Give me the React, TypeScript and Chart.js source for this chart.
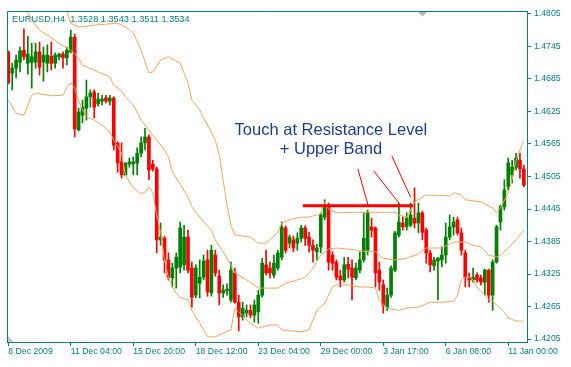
import React, { useEffect, useRef } from 'react';
import { Chart, registerables } from 'chart.js';

Chart.register(...registerables);

const titleText = 'EURUSD,H4  1.3528 1.3543 1.3511 1.3534';
const noteLine1 = 'Touch at Resistance Level';
const noteLine2 = '+ Upper Band';

const xTickBars = [0, 16, 32, 48, 64, 80, 96, 112, 128];
const xTickLabels = ['8 Dec 2009', '11 Dec 04:00', '15 Dec 20:00', '18 Dec 12:00', '23 Dec 04:00', '29 Dec 00:00', '3 Jan 17:00', '6 Jan 08:00', '11 Jan 00:00'];
const yTicks = [1.4805, 1.4745, 1.4685, 1.4625, 1.4565, 1.4505, 1.4445, 1.4385, 1.4325, 1.4265, 1.4205];

const open = [
  1.4735, 1.4696, 1.4705, 1.4716, 1.4738, 1.4714, 1.4716, 1.4716, 1.4735, 1.4716,
  1.4714, 1.4727, 1.4714, 1.4726, 1.4731, 1.4724, 1.4735, 1.4762, 1.4591, 1.4618,
  1.4631, 1.4652, 1.4661, 1.4639, 1.4644, 1.4650, 1.4644, 1.4650, 1.4567, 1.4532,
  1.4508, 1.4528, 1.4528, 1.4530, 1.4548, 1.4567, 1.4578, 1.4528, 1.4519, 1.4388,
  1.4391, 1.4351, 1.4318, 1.4336, 1.4338, 1.4342, 1.4393, 1.4336, 1.4286, 1.4308,
  1.4319, 1.4351, 1.4290, 1.4360, 1.4321, 1.4290, 1.4294, 1.4277, 1.4327, 1.4273,
  1.4246, 1.4253, 1.4258, 1.4249, 1.4255, 1.4286, 1.4342, 1.4336, 1.4323, 1.4336,
  1.4356, 1.4410, 1.4382, 1.4388, 1.4382, 1.4391, 1.4410, 1.4393, 1.4378, 1.4366,
  1.4375, 1.4430, 1.4452, 1.4360, 1.4347, 1.4321, 1.4314, 1.4343, 1.4336, 1.4318,
  1.4332, 1.4351, 1.4369, 1.4412, 1.4410, 1.4332, 1.4305, 1.4264, 1.4286, 1.4332,
  1.4397, 1.4419, 1.4412, 1.4415, 1.4428, 1.4419, 1.4438, 1.4406, 1.4364, 1.4340,
  1.4349, 1.4351, 1.4360, 1.4393, 1.4412, 1.4425, 1.4401, 1.4364, 1.4319, 1.4314,
  1.4323, 1.4318, 1.4310, 1.4332, 1.4286, 1.4347, 1.4421, 1.4449, 1.4486, 1.4508,
  1.4522, 1.4535, 1.4519,
];
const high = [
  1.4737, 1.4714, 1.4729, 1.4744, 1.4777, 1.4764, 1.4751, 1.4751, 1.4753, 1.4744,
  1.4748, 1.4753, 1.4733, 1.4733, 1.4735, 1.4744, 1.4775, 1.4768, 1.4631, 1.4646,
  1.4683, 1.4665, 1.4665, 1.4659, 1.4655, 1.4655, 1.4655, 1.4652, 1.4569, 1.4567,
  1.4530, 1.4539, 1.4541, 1.4558, 1.4578, 1.4594, 1.4582, 1.4535, 1.4522, 1.4419,
  1.4395, 1.4364, 1.4345, 1.4364, 1.4421, 1.4415, 1.4406, 1.4347, 1.4342, 1.4351,
  1.4360, 1.4369, 1.4378, 1.4369, 1.4332, 1.4305, 1.4307, 1.4347, 1.4336, 1.4286,
  1.4273, 1.4268, 1.4268, 1.4277, 1.4295, 1.4354, 1.4369, 1.4347, 1.4360, 1.4369,
  1.4421, 1.4414, 1.4397, 1.4395, 1.4401, 1.4415, 1.4414, 1.4402, 1.4388, 1.4380,
  1.4438, 1.4462, 1.4456, 1.4366, 1.4351, 1.4332, 1.4356, 1.4356, 1.4351, 1.4345,
  1.4366, 1.4438, 1.4443, 1.4428, 1.4412, 1.4347, 1.4314, 1.4299, 1.4340, 1.4404,
  1.4456, 1.4430, 1.4438, 1.4456, 1.4484, 1.4456, 1.4441, 1.4410, 1.4369, 1.4356,
  1.4356, 1.4375, 1.4419, 1.4434, 1.4430, 1.4430, 1.4410, 1.4369, 1.4327, 1.4336,
  1.4327, 1.4323, 1.4334, 1.4334, 1.4351, 1.4415, 1.4452, 1.4499, 1.4539, 1.4535,
  1.4548, 1.4548, 1.4526,
];
const low = [
  1.4676, 1.4665, 1.4687, 1.4698, 1.4720, 1.4694, 1.4668, 1.4705, 1.4692, 1.4681,
  1.4698, 1.4702, 1.4705, 1.4720, 1.4705, 1.4711, 1.4733, 1.4578, 1.4589, 1.4604,
  1.4609, 1.4633, 1.4613, 1.4635, 1.4637, 1.4641, 1.4637, 1.4554, 1.4513, 1.4502,
  1.4506, 1.4522, 1.4508, 1.4508, 1.4541, 1.4554, 1.4499, 1.4515, 1.4364, 1.4378,
  1.4327, 1.4314, 1.4301, 1.4299, 1.4327, 1.4332, 1.4327, 1.4264, 1.4281, 1.4281,
  1.4314, 1.4284, 1.4284, 1.4321, 1.4268, 1.4282, 1.4286, 1.4273, 1.4271, 1.4220,
  1.4240, 1.4246, 1.4244, 1.4236, 1.4234, 1.4282, 1.4323, 1.4318, 1.4318, 1.4332,
  1.4351, 1.4364, 1.4373, 1.4366, 1.4369, 1.4384, 1.4378, 1.4366, 1.4347, 1.4351,
  1.4364, 1.4425, 1.4332, 1.4332, 1.4314, 1.4301, 1.4310, 1.4318, 1.4277, 1.4314,
  1.4327, 1.4347, 1.4360, 1.4393, 1.4301, 1.4295, 1.4253, 1.4258, 1.4282, 1.4329,
  1.4393, 1.4406, 1.4406, 1.4412, 1.4410, 1.4401, 1.4388, 1.4345, 1.4329, 1.4332,
  1.4277, 1.4338, 1.4345, 1.4388, 1.4397, 1.4397, 1.4360, 1.4301, 1.4301, 1.4310,
  1.4310, 1.4305, 1.4286, 1.4273, 1.4258, 1.4345, 1.4406, 1.4443, 1.4480, 1.4493,
  1.4517, 1.4502, 1.4486,
];
const close = [
  1.4678, 1.4705, 1.4720, 1.4737, 1.4726, 1.4731, 1.4726, 1.4735, 1.4707, 1.4729,
  1.4729, 1.4714, 1.4729, 1.4731, 1.4724, 1.4738, 1.4762, 1.4593, 1.4624, 1.4633,
  1.4652, 1.4659, 1.4633, 1.4648, 1.4648, 1.4644, 1.4650, 1.4563, 1.4530, 1.4508,
  1.4530, 1.4532, 1.4532, 1.4548, 1.4567, 1.4578, 1.4517, 1.4519, 1.4388, 1.4393,
  1.4351, 1.4319, 1.4336, 1.4356, 1.4410, 1.4393, 1.4332, 1.4282, 1.4336, 1.4319,
  1.4349, 1.4292, 1.4369, 1.4327, 1.4290, 1.4295, 1.4297, 1.4332, 1.4273, 1.4246,
  1.4262, 1.4258, 1.4249, 1.4268, 1.4286, 1.4345, 1.4327, 1.4327, 1.4345, 1.4364,
  1.4412, 1.4369, 1.4393, 1.4373, 1.4391, 1.4410, 1.4391, 1.4378, 1.4369, 1.4373,
  1.4434, 1.4449, 1.4347, 1.4345, 1.4319, 1.4314, 1.4342, 1.4334, 1.4319, 1.4336,
  1.4351, 1.4391, 1.4439, 1.4406, 1.4327, 1.4310, 1.4268, 1.4286, 1.4336, 1.4401,
  1.4421, 1.4412, 1.4428, 1.4434, 1.4419, 1.4438, 1.4402, 1.4364, 1.4342, 1.4351,
  1.4354, 1.4360, 1.4393, 1.4412, 1.4421, 1.4401, 1.4369, 1.4319, 1.4314, 1.4319,
  1.4314, 1.4310, 1.4332, 1.4286, 1.4347, 1.4412, 1.4449, 1.4480, 1.4530, 1.4522,
  1.4539, 1.4519, 1.4489,
];

const upperBandBars = [13, 15, 16, 18, 23, 28, 30, 32, 34, 36, 37, 39, 41, 44, 46, 47, 49, 50, 52, 53, 54, 55, 56, 57, 58, 62, 64, 66, 69, 70, 72, 75, 77, 80, 81, 82, 84, 88, 92, 96, 99, 100, 102, 103, 104, 107, 113, 114, 116, 117, 121, 124, 125, 126, 128, 129, 130, 132];
const upperBand = [1.4840, 1.4809, 1.4788, 1.4781, 1.4785, 1.4788, 1.4781, 1.4770, 1.4738, 1.4696, 1.4698, 1.4720, 1.4726, 1.4714, 1.4678, 1.4646, 1.4628, 1.4613, 1.4587, 1.4572, 1.4545, 1.4499, 1.4452, 1.4415, 1.4397, 1.4393, 1.4382, 1.4382, 1.4402, 1.4419, 1.4425, 1.4430, 1.4430, 1.4436, 1.4458, 1.4445, 1.4438, 1.4439, 1.4439, 1.4439, 1.4439, 1.4434, 1.4430, 1.4443, 1.4458, 1.4471, 1.4469, 1.4475, 1.4471, 1.4462, 1.4458, 1.4447, 1.4438, 1.4447, 1.4475, 1.4499, 1.4535, 1.4572];

const middleBandBars = [3, 5, 6, 8, 11, 13, 16, 18, 19, 23, 26, 27, 29, 30, 32, 34, 36, 38, 40, 41, 42, 44, 46, 47, 49, 52, 53, 55, 57, 58, 61, 63, 64, 69, 71, 74, 76, 78, 80, 82, 84, 87, 89, 91, 94, 96, 99, 102, 105, 107, 111, 114, 117, 119, 121, 123, 125, 126, 128, 130, 132];
const middleBand = [1.4836, 1.4807, 1.4794, 1.4775, 1.4761, 1.4751, 1.4738, 1.4724, 1.4711, 1.4698, 1.4689, 1.4674, 1.4663, 1.4652, 1.4637, 1.4609, 1.4591, 1.4572, 1.4554, 1.4541, 1.4513, 1.4491, 1.4467, 1.4449, 1.4430, 1.4406, 1.4388, 1.4366, 1.4342, 1.4327, 1.4314, 1.4305, 1.4299, 1.4299, 1.4308, 1.4314, 1.4319, 1.4336, 1.4360, 1.4371, 1.4373, 1.4371, 1.4369, 1.4367, 1.4366, 1.4354, 1.4351, 1.4354, 1.4362, 1.4373, 1.4373, 1.4384, 1.4384, 1.4378, 1.4375, 1.4360, 1.4356, 1.4360, 1.4373, 1.4388, 1.4406];

const lowerBandBars = [0, 2, 4, 6, 7, 11, 14, 15, 16, 17, 18, 19, 20, 22, 24, 26, 27, 29, 30, 31, 32, 34, 35, 36, 37, 38, 39, 40, 41, 42, 43, 44, 46, 47, 49, 50, 51, 53, 55, 57, 58, 59, 62, 64, 67, 69, 70, 75, 77, 79, 81, 83, 84, 87, 90, 92, 94, 95, 96, 97, 100, 102, 105, 108, 111, 114, 115, 116, 117, 118, 119, 120, 122, 123, 124, 125, 127, 128, 130, 132];
const lowerBand = [1.4646, 1.4622, 1.4618, 1.4655, 1.4659, 1.4654, 1.4655, 1.4670, 1.4678, 1.4668, 1.4646, 1.4628, 1.4615, 1.4609, 1.4600, 1.4587, 1.4572, 1.4548, 1.4508, 1.4495, 1.4484, 1.4473, 1.4476, 1.4486, 1.4475, 1.4434, 1.4402, 1.4351, 1.4318, 1.4301, 1.4290, 1.4282, 1.4277, 1.4258, 1.4234, 1.4222, 1.4209, 1.4209, 1.4216, 1.4222, 1.4262, 1.4255, 1.4234, 1.4225, 1.4231, 1.4231, 1.4222, 1.4218, 1.4222, 1.4258, 1.4271, 1.4301, 1.4305, 1.4305, 1.4301, 1.4301, 1.4299, 1.4277, 1.4268, 1.4262, 1.4258, 1.4262, 1.4264, 1.4273, 1.4273, 1.4275, 1.4286, 1.4314, 1.4319, 1.4319, 1.4314, 1.4301, 1.4286, 1.4277, 1.4275, 1.4268, 1.4255, 1.4244, 1.4238, 1.4238];

const resistanceBars = [75.4, 103.6];
const resistanceLevel = 1.4451;
const arrowStartBars = [89.5, 93.6, 98.2];
const arrowStartPrices = [1.4519, 1.4515, 1.4543];
const arrowEndBars = [92.1, 100.0, 103.0];
const arrowEndPrices = [1.4452, 1.4456, 1.4467];
const noteBar = 82.6;
const notePrices = [1.4582, 1.4547];

const TEAL = '#087e7e';
const GREEN = '#008000';
const RED = '#ff0000';
const BAND = '#f4a460';
const NOTE = '#1f3d8f';
const FONT = '"Liberation Sans", Arial, sans-serif';

const decor = {
  id: 'decor',
  afterDraw(chart: any) {
    const { ctx, chartArea: a, scales } = chart;
    const xs = scales.x;
    const ys = scales.y;
    ctx.save();
    ctx.strokeStyle = TEAL;
    ctx.lineWidth = 1;
    ctx.beginPath();
    ctx.moveTo(a.left + 0.5, a.bottom);
    ctx.lineTo(a.left + 0.5, a.top + 0.5);
    ctx.lineTo(a.right, a.top + 0.5);
    ctx.stroke();

    ctx.fillStyle = '#b8b8b8';
    ctx.beginPath();
    ctx.moveTo(a.left + 411, a.top + 1);
    ctx.lineTo(a.left + 420, a.top + 1);
    ctx.lineTo(a.left + 415.5, a.top + 5.5);
    ctx.closePath();
    ctx.fill();

    ctx.fillStyle = '#c8c8c8';
    ctx.beginPath();
    ctx.moveTo(a.left + 1, a.bottom - 6);
    ctx.lineTo(a.left + 1, a.bottom);
    ctx.lineTo(a.left + 7, a.bottom);
    ctx.closePath();
    ctx.fill();

    ctx.fillStyle = TEAL;
    ctx.font = '9.2px ' + FONT;
    ctx.textAlign = 'left';
    ctx.textBaseline = 'middle';
    ctx.fillText(titleText, a.left + 5, a.top + 8);

    ctx.fillStyle = NOTE;
    ctx.font = '16.5px ' + FONT;
    ctx.textAlign = 'center';
    ctx.textBaseline = 'alphabetic';
    const nx = xs.getPixelForValue(noteBar);
    ctx.fillText(noteLine1, nx, ys.getPixelForValue(notePrices[0]));
    ctx.fillText(noteLine2, nx, ys.getPixelForValue(notePrices[1]));
    ctx.restore();
  },
};

export default function App() {
  const ref = useRef<HTMLCanvasElement>(null);

  useEffect(() => {
    document.body.style.margin = '0';
    const canvas = ref.current;
    if (!canvas) return;
    const idx = close.map((_, i) => i);
    const colors = idx.map((i) => (close[i] >= open[i] ? GREEN : RED));
    const wicks = idx.map((i) => ({ x: i, y: [low[i], high[i]] }));
    const bodies = idx.map((i) => ({ x: i, y: [Math.min(open[i], close[i]), Math.max(open[i], close[i])] }));
    const band = (bars: number[], vals: number[]) => bars.map((b, k) => ({ x: b, y: vals[k] }));
    const lineDs = (data: any[], color: string, width: number, order: number) => ({
      type: 'line' as const,
      data,
      borderColor: color,
      borderWidth: width,
      pointRadius: 0,
      tension: 0,
      fill: false,
      order,
    });

    const arrows = arrowStartBars.map((b, k) =>
      lineDs(
        [
          { x: b, y: arrowStartPrices[k] },
          { x: arrowEndBars[k], y: arrowEndPrices[k] },
        ],
        RED,
        1,
        0
      )
    );

    const chart = new Chart(canvas, {
      type: 'bar',
      data: {
        datasets: [
          {
            type: 'bar',
            data: wicks as any,
            backgroundColor: colors,
            barThickness: 1,
            grouped: false,
            borderWidth: 0,
            order: 4,
          } as any,
          {
            type: 'bar',
            data: bodies as any,
            backgroundColor: colors,
            barThickness: 3,
            grouped: false,
            borderWidth: 0,
            order: 3,
          } as any,
          lineDs(band(upperBandBars, upperBand), BAND, 1, 2),
          lineDs(band(middleBandBars, middleBand), BAND, 1, 2),
          lineDs(band(lowerBandBars, lowerBand), BAND, 1, 2),
          lineDs(
            resistanceBars.map((b) => ({ x: b, y: resistanceLevel })),
            RED,
            3,
            1
          ),
          ...arrows,
        ] as any,
      },
      options: {
        responsive: false,
        animation: false,
        devicePixelRatio: 1,
        events: [],
        layout: { padding: { left: 7, top: 11, right: 0, bottom: 0 } },
        plugins: { legend: { display: false }, tooltip: { enabled: false }, title: { display: false } },
        scales: {
          x: {
            type: 'linear',
            position: 'bottom',
            min: -0.333,
            max: 132.8,
            offset: false,
            grid: { display: true, drawOnChartArea: false, drawTicks: true, tickLength: 4, color: TEAL, offset: false },
            border: { display: true, color: TEAL, width: 1 },
            afterBuildTicks: (scale: any) => {
              scale.ticks = xTickBars.map((v) => ({ value: v }));
            },
            afterFit: (scale: any) => {
              scale.height = 25;
            },
            ticks: {
              autoSkip: false,
              maxRotation: 0,
              minRotation: 0,
              align: 'start',
              padding: 0,
              color: TEAL,
              font: { family: FONT, size: 8.7 },
              callback: (v: any) => {
                const k = xTickBars.indexOf(Number(v));
                return k >= 0 ? xTickLabels[k] : '';
              },
            },
          },
          y: {
            type: 'linear',
            position: 'right',
            min: 1.41995,
            max: 1.48105,
            grid: { display: true, drawOnChartArea: false, drawTicks: true, tickLength: 4, color: TEAL },
            border: { display: true, color: TEAL, width: 1 },
            afterBuildTicks: (scale: any) => {
              scale.ticks = yTicks.map((v) => ({ value: v }));
            },
            afterFit: (scale: any) => {
              scale.width = 44;
            },
            ticks: {
              padding: 3,
              color: TEAL,
              font: { family: FONT, size: 8.7 },
              callback: (v: any) => Number(v).toFixed(4),
            },
          },
        },
      } as any,
      plugins: [decor],
    });
    return () => chart.destroy();
  }, []);

  return (
    <div style={{ width: 571, height: 367, background: '#ffffff', position: 'relative' }}>
      <style>{'body{margin:0;background:#fff}'}</style>
      <canvas ref={ref} width={571} height={367} style={{ display: 'block' }} />
    </div>
  );
}
